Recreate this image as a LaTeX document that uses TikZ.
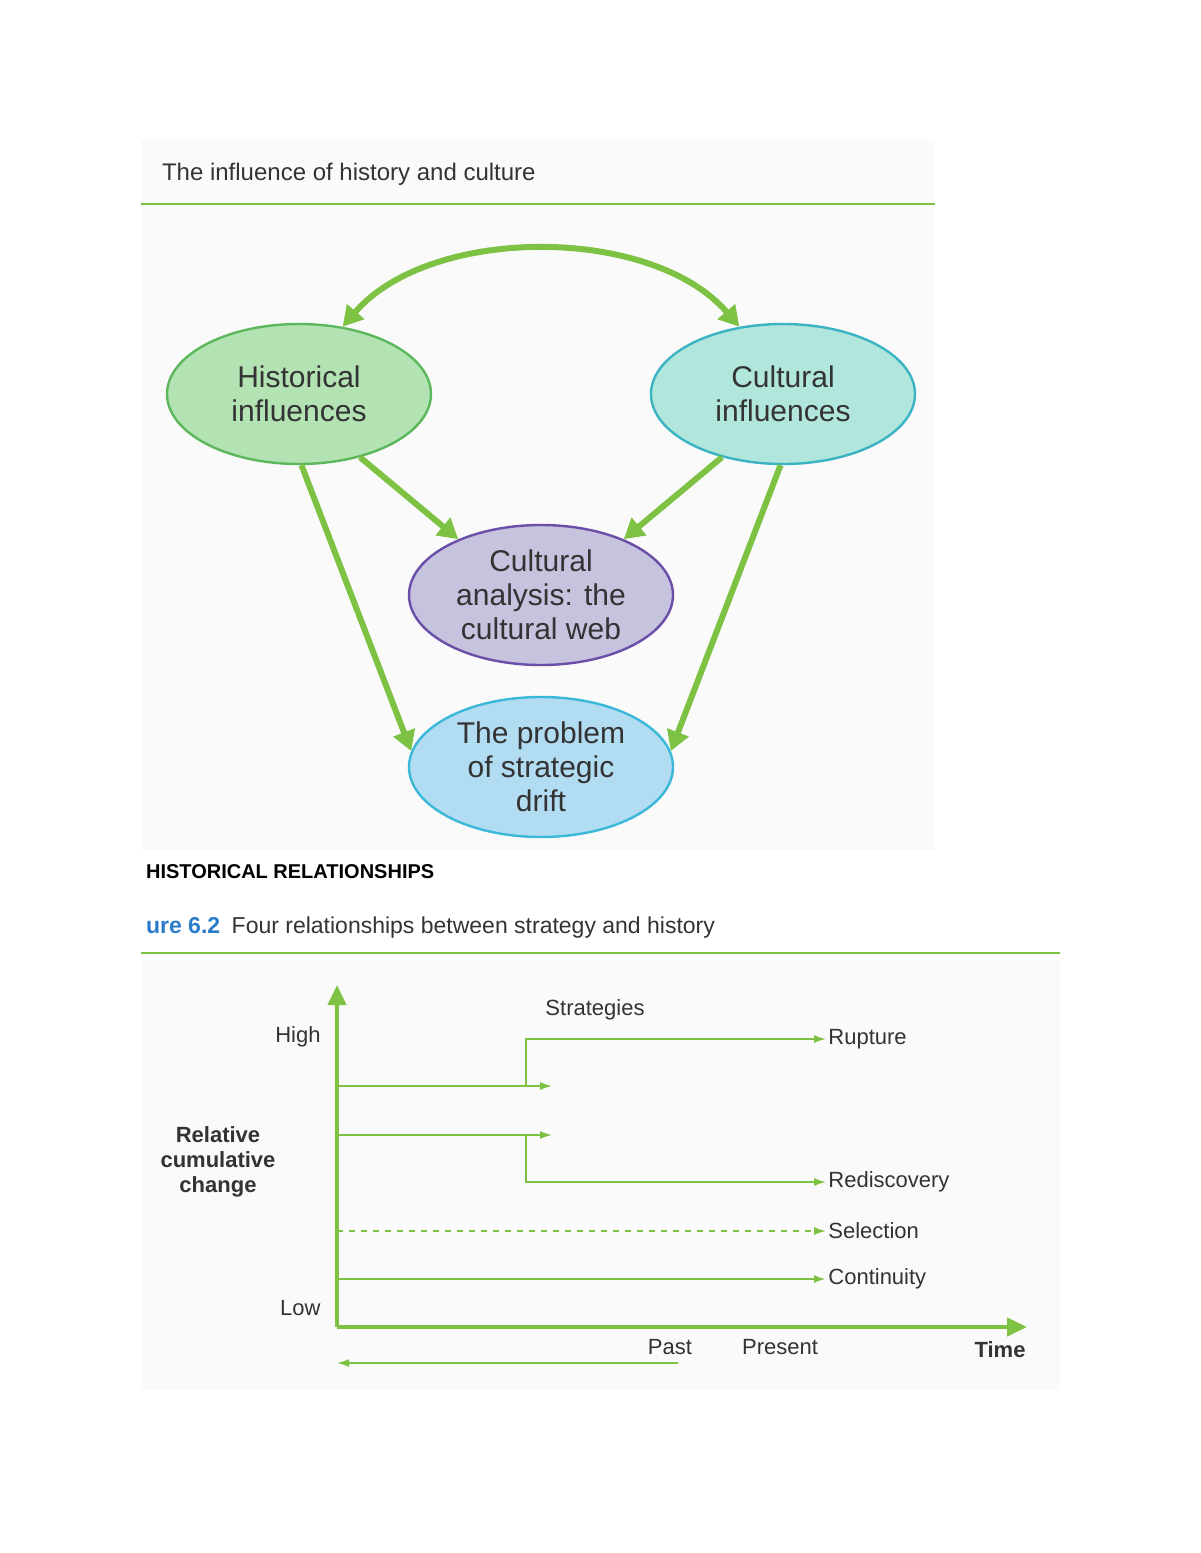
\documentclass[tikz,border=0pt]{standalone}
\usepackage{fontspec}
\setmainfont{Liberation Sans}
\usetikzlibrary{arrows.meta,shapes.geometric}
\definecolor{leaf}{HTML}{7DC242}
\definecolor{histfill}{HTML}{B3E2B3}
\definecolor{histline}{HTML}{5DB85D}
\definecolor{cultfill}{HTML}{B0E6DC}
\definecolor{cultline}{HTML}{3BB3C3}
\definecolor{webfill}{HTML}{C5C3DD}
\definecolor{webline}{HTML}{6A4EA8}
\definecolor{driftfill}{HTML}{B2DCF2}
\definecolor{driftline}{HTML}{3BB8D8}
\definecolor{figblue}{HTML}{2A7BC8}
\definecolor{ink}{HTML}{333333}
\begin{document}
\begin{tikzpicture}[x=0.5pt,y=-0.5pt,
    bubble/.style={ellipse, line width=1.2pt, minimum width=132pt, minimum height=70pt,
        inner sep=0pt, align=center, text=ink, font=\fontsize{15}{17}\selectfont},
    flow/.style={draw=leaf, line width=3pt, -{Triangle[length=10pt,width=11pt]}},
    trace/.style={draw=leaf, line width=0.8pt, -{Latex[length=6pt,width=4pt]}},
    axis/.style={draw=leaf, line width=2pt, -{Triangle[length=10pt,width=9pt]}},
    lab/.style={font=\fontsize{11}{13}\selectfont, text=ink, inner sep=1pt}]
    \useasboundingbox (0,0) rectangle (1200,1553);
    \fill[gray!4] (141,140) rectangle (935,850);
    \fill[gray!4] (141,960) rectangle (1060,1390);

    % culture diagram
    \node[anchor=west, text=ink, font=\fontsize{12}{14}\selectfont] (title) at (155,174) {The influence of history and culture};
    \draw[leaf, line width=0.6pt] (141,204) -- (935,204);
    \node[bubble, draw=histline, fill=histfill] (hist) at (299,394) {Historical\\influences};
    \node[bubble, draw=cultline, fill=cultfill] (cult) at (783,394) {Cultural\\influences};
    \node[bubble, draw=webline, fill=webfill] (web) at (541,595) {Cultural\\analysis: the\\cultural web};
    \node[bubble, draw=driftline, fill=driftfill] (drift) at (541,767) {The problem\\of strategic\\drift};
    \draw[flow, {Triangle[length=10pt,width=11pt]}-{Triangle[length=10pt,width=11pt]}]
        (hist.57) .. controls (430,225) and (652,225) .. (cult.123);
    \draw[flow] (hist.-46) -- (web.146);
    \draw[flow] (cult.-134) -- (web.34);
    \draw[flow] (hist.-88) -- (drift.173);
    \draw[flow] (cult.-92) -- (drift.7);

    % history chart
    \node[anchor=west, font=\bfseries\fontsize{10}{12}\selectfont] (head) at (139,872) {HISTORICAL RELATIONSHIPS};
    \node[anchor=west, text=ink, font=\fontsize{11.5}{13}\selectfont] (fig) at (139,928)
        {\textcolor{figblue}{\bfseries ure 6.2}\hspace{0.5em}Four relationships between strategy and history};
    \draw[leaf, line width=0.6pt] (141,953) -- (1060,953);
    \coordinate (origin) at (337,1327);
    \coordinate (top) at (337,985);
    \coordinate (right) at (1027,1327);
    \draw[axis] (origin) -- (top);
    \draw[axis] (origin) -- (right);
    \node[lab, anchor=east] (high) at (323,1037) {High};
    \node[lab, anchor=east] (low) at (323,1308) {Low};
    \node[lab, align=center, font=\bfseries\fontsize{11}{12.5}\selectfont] (rcc) at (218,1162) {Relative\\cumulative\\change};
    \node[lab] (strat) at (595,1010) {Strategies};
    \node[lab, anchor=west] (rupture) at (826,1039) {Rupture};
    \node[lab, anchor=west] (redisc) at (826,1182) {Rediscovery};
    \node[lab, anchor=west] (select) at (826,1231) {Selection};
    \node[lab, anchor=west] (contin) at (826,1279) {Continuity};
    \node[lab] (past) at (670,1347) {Past};
    \node[lab] (present) at (780,1347) {Present};
    \node[lab, font=\bfseries\fontsize{11}{13}\selectfont] (time) at (1000,1350) {Time};
    \draw[trace] (337,1086) -- (552,1086);
    \draw[trace] (526,1086) |- (rupture.west);
    \draw[trace] (337,1135) -- (552,1135);
    \draw[trace] (526,1135) |- (redisc.west);
    \draw[trace, dashed] (337,1231) -- (select.west);
    \draw[trace, line width=1.1pt] (337,1279) -- (contin.west);
    \draw[trace] (678,1363) -- (337,1363);
\end{tikzpicture}
\end{document}
